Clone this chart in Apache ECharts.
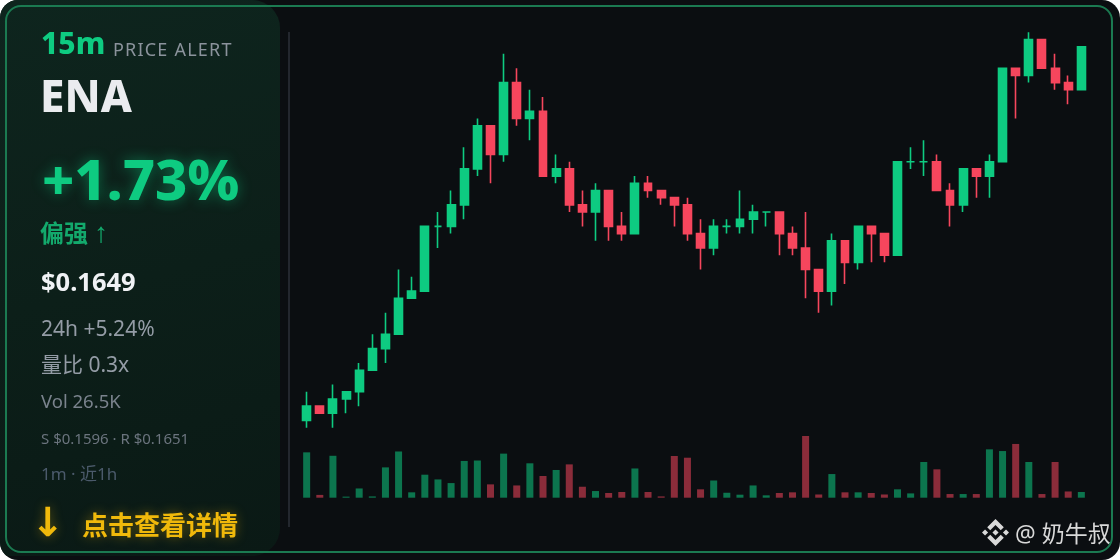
<!DOCTYPE html>
<html>
<head>
<meta charset="utf-8">
<script src="https://cdn.jsdelivr.net/npm/echarts@6.0.0/dist/echarts.min.js"></script>
<style>
html,body{margin:0;padding:0;background:#ffffff;width:1120px;height:560px;overflow:hidden;}
#card{position:absolute;left:0;top:0;width:1120px;height:560px;border-radius:18px;overflow:hidden;background:#0b0e11;font-family:"Noto Sans","Noto Sans CJK SC",sans-serif;}
#panel{position:absolute;left:0;top:0;width:280px;height:556px;border-radius:0 28px 28px 0;background:linear-gradient(165deg,#0e251e 0%,#0c1f19 50%,#0a1915 100%);}
#ring{position:absolute;left:5px;top:5px;width:1104px;height:544px;border:2px solid #1b7a51;border-radius:16px;pointer-events:none;z-index:5;}
#divider{position:absolute;left:287.5px;top:32px;width:2px;height:495px;background:#23272e;}
#chart{position:absolute;left:0;top:0;width:1120px;height:560px;}
.t{position:absolute;white-space:nowrap;line-height:1;z-index:3;}
</style>
</head>
<body>
<div id="card">
  <div id="panel"></div>
  <div id="divider"></div>
  <div id="chart"></div>
  <div class="t" style="left:41px;top:28px;font-size:30px;font-weight:800;color:#0ecb81;">15m</div>
  <div class="t" style="left:113px;top:40px;font-size:18px;letter-spacing:1.2px;color:#8b939c;">PRICE ALERT</div>
  <div class="t" style="left:40px;top:73px;font-size:44px;font-weight:800;color:#eaecef;">ENA</div>
  <div class="t" style="left:42px;top:150px;font-size:56px;font-weight:800;color:#0ecb81;text-shadow:0 0 14px rgba(14,203,129,0.45);">+1.73%</div>
  <div class="t" style="left:40px;top:219px;font-size:24px;font-weight:700;color:#13a96c;">偏强 <span style="font-family:'Liberation Sans';font-size:28px;">↑</span></div>
  <div class="t" style="left:41px;top:269px;font-size:25.5px;font-weight:700;color:#f0f2f5;">$0.1649</div>
  <div class="t" style="left:41px;top:318px;font-size:21px;color:#949ca6;">24h +5.24%</div>
  <div class="t" style="left:41px;top:354px;font-size:21px;color:#949ca6;">量比 0.3x</div>
  <div class="t" style="left:41px;top:392px;font-size:18.5px;color:#7a838d;">Vol 26.5K</div>
  <div class="t" style="left:41px;top:431px;font-size:15px;color:#6b747e;">S $0.1596 · R $0.1651</div>
  <div class="t" style="left:41px;top:465px;font-size:17px;color:#4b5a6b;">1m · 近1h</div>
  <div class="t" style="left:31px;top:502px;font-size:40px;font-weight:700;font-family:'DejaVu Sans';color:#f0b90b;text-shadow:0 0 12px rgba(240,185,11,0.4);">↓</div>
  <div class="t" style="left:82px;top:512px;font-size:26px;font-weight:700;color:#f0b90b;text-shadow:0 0 12px rgba(240,185,11,0.4);">点击查看详情</div>
  <svg style="position:absolute;left:982px;top:519px;width:27px;height:27px;z-index:3;" viewBox="0 0 126.61 126.61"><path fill="#d9d9d9" d="M38.73 53.2l24.59-24.58 24.6 24.6 14.3-14.31L63.32 0 24.42 38.9l14.31 14.3z M0 63.31l14.3-14.31 14.31 14.31-14.31 14.3z M38.73 73.41l24.59 24.59 24.6-24.6 14.31 14.29-38.9 38.91-38.91-38.88-.02-.02 14.33-14.29z M98.28 63.31l14.3-14.31 14.31 14.3-14.31 14.32z M77.83 63.3L63.32 48.78 52.59 59.51l-1.24 1.230-2.54 2.54-.02.02.02.03 14.51 14.5 14.51-14.52.01-.01-.01-.01z"/></svg>
  <div class="t" style="left:1015px;top:522px;font-size:23px;color:#d9d9d9;">@ 奶牛叔</div>
  <div id="ring"></div>
</div>
<script>
const categories = Array.from({length: 60}, (_, i) => String(i + 1));
const opens = [0.1597,0.1599,0.1598,0.1600,0.1601,0.1604,0.1607,0.1609,0.1614,0.1615,
  0.1624,0.1624,0.1627,0.1632,0.1638,0.1634,0.1644,0.1639,0.1640,0.1631,
  0.1632,0.1627,0.1626,0.1629,0.1624,0.1623,0.1630,0.1629,0.1628,0.1627,
  0.1623,0.1621,0.1624,0.1624,0.1625,0.1626,0.1626,0.1623,0.1621,0.1618,
  0.1615,0.1622,0.1619,0.1624,0.1623,0.1620,0.1633,0.1633,0.1633,0.1629,
  0.1627,0.1632,0.1631,0.1633,0.1646,0.1645,0.1650,0.1646,0.1644,0.1643];
const closes = [0.1599,0.1598,0.1600,0.1601,0.1604,0.1607,0.1609,0.1614,0.1615,0.1624,
  0.1624,0.1627,0.1632,0.1638,0.1634,0.1644,0.1639,0.1640,0.1631,0.1632,
  0.1627,0.1626,0.1629,0.1624,0.1623,0.1630,0.1629,0.1628,0.1627,0.1623,
  0.1621,0.1624,0.1624,0.1625,0.1626,0.1626,0.1623,0.1621,0.1618,0.1615,
  0.1622,0.1619,0.1624,0.1623,0.1620,0.1633,0.1633,0.1633,0.1629,0.1627,
  0.1632,0.1631,0.1633,0.1646,0.1645,0.1650,0.1646,0.1644,0.1643,0.1649];
const lows = [0.1596,0.1598,0.1596,0.1598,0.1599,0.1604,0.1605,0.1609,0.1614,0.1615,
  0.1621,0.1623,0.1625,0.1631,0.1630,0.1633,0.1638,0.1636,0.1631,0.1630,
  0.1626,0.1624,0.1622,0.1622,0.1622,0.1623,0.1628,0.1627,0.1624,0.1622,
  0.1618,0.1620,0.1623,0.1623,0.1623,0.1624,0.1620,0.1620,0.1614,0.1612,
  0.1613,0.1616,0.1618,0.1619,0.1619,0.1620,0.1632,0.1631,0.1629,0.1624,
  0.1626,0.1628,0.1628,0.1633,0.1639,0.1644,0.1646,0.1643,0.1641,0.1643];
const highs = [0.1601,0.1599,0.1602,0.1601,0.1605,0.1609,0.1612,0.1618,0.1617,0.1624,
  0.1626,0.1629,0.1635,0.1639,0.1638,0.1648,0.1646,0.1643,0.1642,0.1634,
  0.1633,0.1629,0.1630,0.1629,0.1626,0.1631,0.1631,0.1629,0.1628,0.1628,
  0.1625,0.1625,0.1625,0.1629,0.1627,0.1626,0.1626,0.1624,0.1626,0.1618,
  0.1623,0.1622,0.1624,0.1624,0.1623,0.1633,0.1635,0.1636,0.1634,0.1630,
  0.1632,0.1632,0.1634,0.1646,0.1646,0.1651,0.1650,0.1648,0.1645,0.1649];
// volume in K
const volumes = [211,13,195,5,43,6,141,215,25,107,
  85,68,171,173,62,205,57,160,101,129,
  155,51,31,22,26.5,136,26.5,6,194,186,
  39,80,23,14,57,11,22,25,287,15,
  110,25,25,22,15,39,20,166,132,17,
  17,17,225,217,250,166,17,166,29,26.5];
const priceMin = 0.1596, priceMax = 0.1651;
const volumeMax = 287;

const UP = '#0ecb81', DOWN = '#f6465d';
const VOL_UP = 'rgba(14,203,129,0.55)', VOL_DOWN = 'rgba(246,70,93,0.55)';

const candleData = opens.map((o, i) => [o, closes[i], lows[i], highs[i]]);
const volData = volumes.map((v, i) => ({
  value: v,
  itemStyle: { color: closes[i] >= opens[i] ? VOL_UP : VOL_DOWN }
}));

const chart = echarts.init(document.getElementById('chart'), null, { renderer: 'canvas' });
chart.setOption({
  animation: false,
  backgroundColor: 'transparent',
  grid: [
    { left: 300.1, width: 787.8, top: 32.3, height: 395.4 },
    { left: 300.1, width: 787.8, top: 436, height: 61.7 }
  ],
  xAxis: [
    { type: 'category', data: categories, gridIndex: 0, boundaryGap: true, show: false },
    { type: 'category', data: categories, gridIndex: 1, boundaryGap: true, show: false }
  ],
  yAxis: [
    { type: 'value', gridIndex: 0, min: priceMin, max: priceMax, show: false, splitLine: { show: false } },
    { type: 'value', gridIndex: 1, min: 0, max: volumeMax, show: false, splitLine: { show: false } }
  ],
  series: [
    {
      type: 'candlestick',
      xAxisIndex: 0, yAxisIndex: 0,
      data: candleData,
      barWidth: 8.4,
      itemStyle: {
        color: UP, color0: DOWN,
        borderColor: UP, borderColor0: DOWN,
        borderColorDoji: UP,
        borderWidth: 1.6
      }
    },
    {
      type: 'bar',
      xAxisIndex: 1, yAxisIndex: 1,
      data: volData,
      barWidth: 7
    }
  ]
});
</script>
</body>
</html>
